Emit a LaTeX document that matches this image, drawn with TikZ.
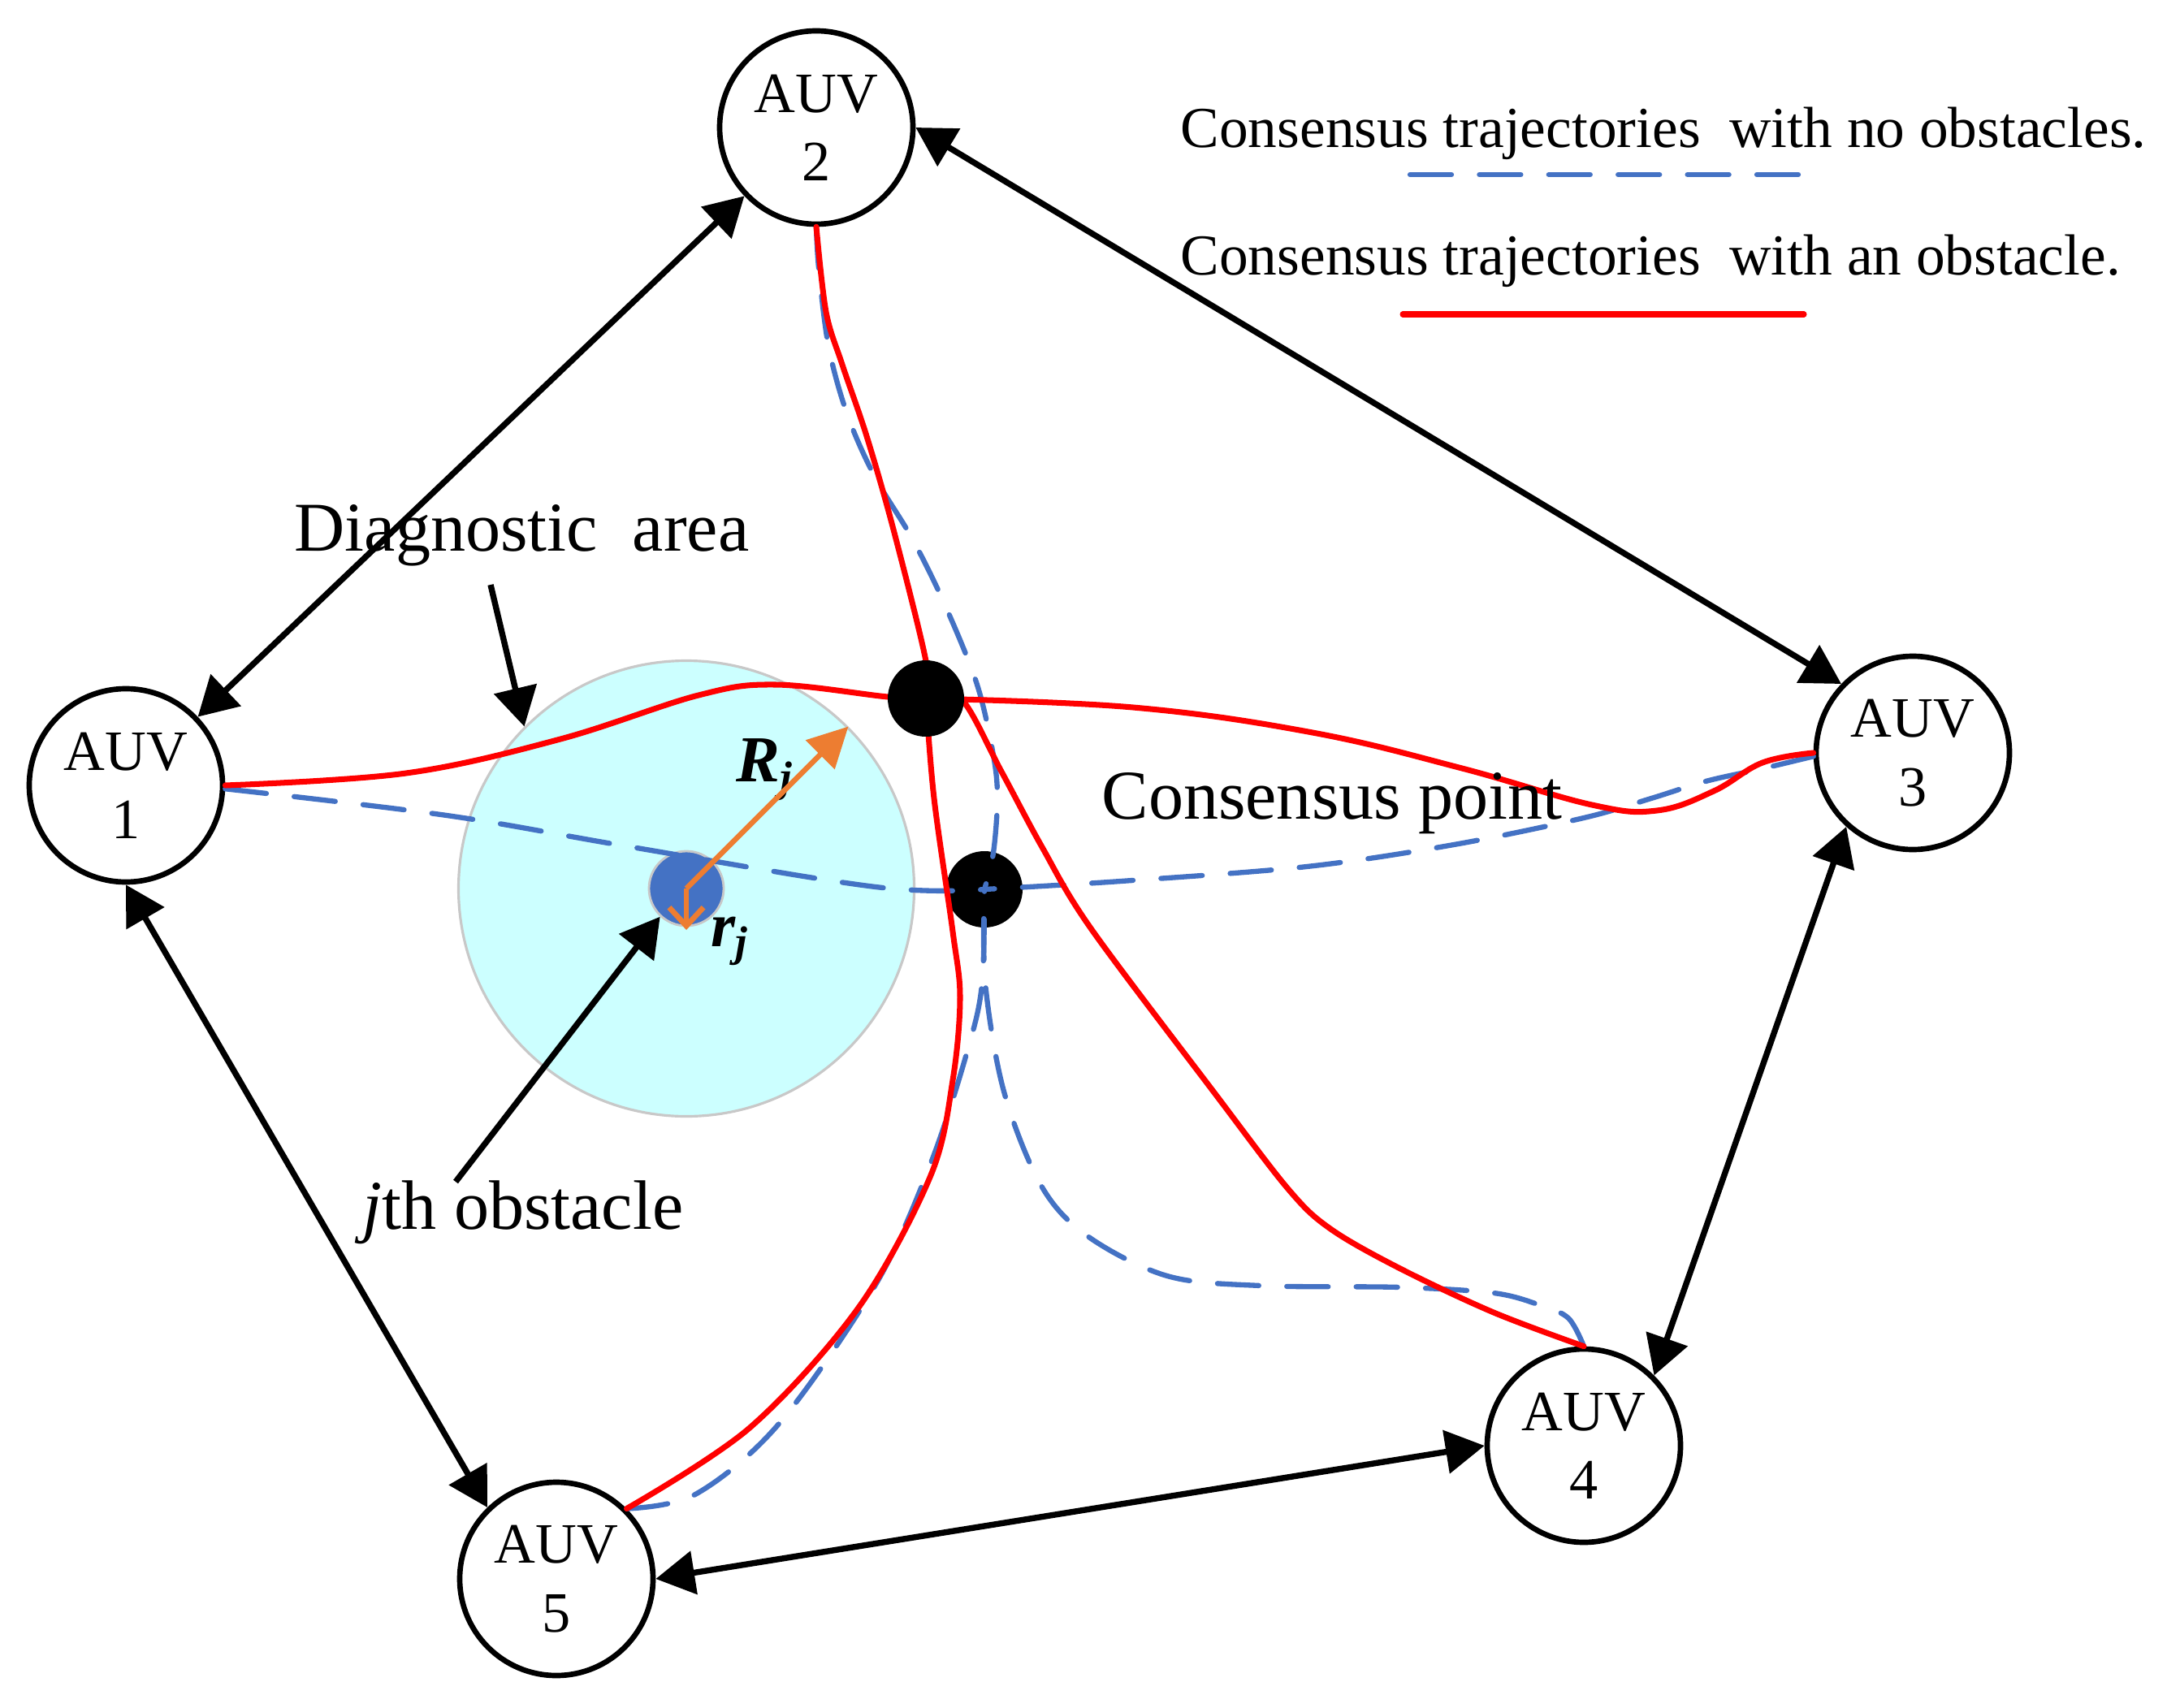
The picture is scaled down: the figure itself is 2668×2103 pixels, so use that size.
\documentclass[tikz,border=0pt]{standalone}
\usepackage{fontspec}
\setmainfont{Liberation Serif}
\usepackage{tikz}
\usetikzlibrary{arrows.meta}
\usepackage{xcolor}
\definecolor{trajblue}{HTML}{4472C4}
\definecolor{trajred}{HTML}{FF0000}
\definecolor{radorange}{HTML}{ED7D31}
\definecolor{areacyan}{HTML}{CCFFFF}
\definecolor{areagray}{HTML}{C8C8C8}

\begin{document}
\begin{tikzpicture}[x=0.1mm, y=-0.1mm,
    auv/.style={circle, draw, line width=1.9pt, fill=white, minimum size=23.8mm,
        inner sep=0pt, align=center, font=\fontsize{20}{24}\selectfont},
    link/.style={line width=2.1pt,
        {Triangle[length=13.6pt, width=15pt]}-{Triangle[length=13.6pt, width=15pt]}},
    pointer/.style={line width=2.1pt, -{Triangle[length=13.6pt, width=15pt]}},
    cpoint/.style={circle, fill=black, minimum size=9.4mm, inner sep=0pt},
    notraj/.style={trajblue, line width=1.8pt, line cap=round, dash pattern=on 14.5pt off 9.8pt},
    obstraj/.style={trajred, line width=2pt, line cap=round},
    radius arrow/.style={radorange, line width=1.9pt},
    biglabel/.style={anchor=base west, inner sep=0pt, font=\fontsize{24.5}{29}\selectfont},
    legtext/.style={anchor=base west, inner sep=0pt, font=\fontsize{20.3}{24}\selectfont},
]

    % ==========================================
    % CANVAS
    % ==========================================
    \useasboundingbox (0,0) rectangle (2668,2103);

    % ==========================================
    % OBSTACLE AND DIAGNOSTIC AREA
    % ==========================================
    \node[circle, fill=areacyan, draw=areagray, line width=0.9pt, minimum size=56.1mm, inner sep=0pt] (area) at (845,1094) {};
    \node[circle, fill=trajblue, draw=areagray, line width=0.8pt, minimum size=9.2mm, inner sep=0pt] (obs) at (845,1094) {};

    % ==========================================
    % AUVS
    % ==========================================
    \node[auv] (auv1) at (155,967)  {AUV\\1};
    \node[auv] (auv2) at (1005,157) {AUV\\2};
    \node[auv] (auv3) at (2355,927) {AUV\\3};
    \node[auv] (auv4) at (1950,1780) {AUV\\4};
    \node[auv] (auv5) at (685,1944) {AUV\\5};

    % lower consensus point (no obstacle), sits under the dashed lines
    \node[cpoint] (cpFree) at (1212,1095) {};

    % ==========================================
    % TRAJECTORIES WITHOUT OBSTACLE
    % ==========================================
    \draw[notraj] plot[smooth, tension=0.6] coordinates {(auv1.358) (550,1004) (772,1042) (1078,1092) (cpFree)};
    \draw[notraj] plot[smooth, tension=0.55] coordinates {(auv2.south) (1008,330) (1020,426) (1043,510) (1077,587) (1123,663) (1163,744) (1203,843) (1223,930) (1228,983) (1223,1050) (cpFree)};
    \draw[notraj] plot[smooth, tension=0.55] coordinates {(auv3.182) (2167,947) (2100,962) (2033,983) (1950,1007) (1790,1040) (1609,1067) (1380,1085) (cpFree)};
    \draw[notraj] plot[smooth, tension=0.55] coordinates {(auv4.north) (1931,1623) (1896,1607) (1839,1592) (1724,1585) (1552,1583) (1437,1571) (1339,1522) (1282,1460) (1236,1344) (1213,1210) (cpFree)};
    \draw[notraj] plot[smooth, tension=0.55] coordinates {(auv5.45) (856,1840) (959,1753) (1079,1580) (1146,1432) (1191,1294) (1209,1212) (cpFree)};

    % ==========================================
    % TRAJECTORIES WITH AN OBSTACLE
    % ==========================================
    \coordinate (cpObs) at (1140,860);
    \draw[obstraj] plot[smooth, tension=0.6] coordinates {(auv1.east) (500,952) (690,910) (860,856) (955,843) (1093,858) (cpObs)};
    \draw[obstraj] plot[smooth, tension=0.55] coordinates {(auv2.south) (1017,384) (1037,449) (1067,537) (1100,652) (1140,814) (cpObs)};
    \draw[obstraj] plot[smooth, tension=0.65] coordinates {(auv3.west) (2170,939) (2110,974) (2040,998) (1960,991) (1800,946) (1616,902) (1395,871) (cpObs)};
    \draw[obstraj] plot[smooth, tension=0.55] coordinates {(cpObs) (1183,860) (1233,950) (1283,1043) (1343,1143) (1494,1344) (1586,1464) (1638,1513) (1724,1562) (1839,1616) (auv4.north)};
    \draw[obstraj] plot[smooth, tension=0.55] coordinates {(auv5.45) (923,1758) (1057,1610) (1146,1447) (1173,1330) (1182,1228) (1173,1147) (1150,983) (cpObs)};

    % upper consensus point (with obstacle)
    \node[cpoint] (cpObsDot) at (cpObs) {};

    % ==========================================
    % COMMUNICATION LINKS
    % ==========================================
    \draw[link] (auv1) -- (auv2);
    \draw[link] (auv2.0) -- (auv3.136);
    \draw[link] (auv3.228) -- (auv4.45);
    \draw[link] (auv4.west) -- (auv5.east);
    \draw[link] (auv5.134) -- (auv1.south);

    % ==========================================
    % RADII
    % ==========================================
    \node[anchor=base west, inner sep=0pt, font=\fontsize{23}{27}\selectfont\bfseries\itshape] (bigR) at (906,962) {R\raisebox{-0.35ex}{\fontsize{15}{15}\selectfont j}};
    \node[anchor=base west, inner sep=0pt, font=\fontsize{22}{26}\selectfont\bfseries\itshape] (smallR) at (875,1165) {r\raisebox{-0.35ex}{\fontsize{15}{15}\selectfont j}};
    \draw[radius arrow, -{Triangle[length=14pt, width=14pt]}] (obs.center) -- (area.45);
    \draw[radius arrow, -{Straight Barb[length=6.5pt, width=12pt]}] (obs.center) -- ++(0,51);

    % ==========================================
    % LABELS
    % ==========================================
    \node[biglabel] (diagText) at (362,678) {Diagnostic\ \ area};
    \coordinate (diagTail) at (604,720);
    \draw[pointer] (diagTail) -- (area.135);

    \node[biglabel] (obsText) at (446,1513) {\textit{j}th obstacle};
    \coordinate (obsTail) at (561,1455);
    \draw[pointer] (obsTail) -- (obs.227);

    \node[biglabel] (cpText) at (1356,1008) {Consensus point};

    % ==========================================
    % LEGEND
    % ==========================================
    \node[legtext] (legNo) at (1453,182) {Consensus trajectories\ \ with no obstacles.};
    \node[legtext] (legObs) at (1453,339) {Consensus trajectories\ \ with an obstacle.};
    \coordinate (legNoA) at (1736,215);
    \coordinate (legNoB) at (2221,215);
    \coordinate (legObsA) at (1727,387);
    \coordinate (legObsB) at (2221,387);
    \draw[notraj] (legNoA) -- (legNoB);
    \draw[obstraj] (legObsA) -- (legObsB);

\end{tikzpicture}
\end{document}
